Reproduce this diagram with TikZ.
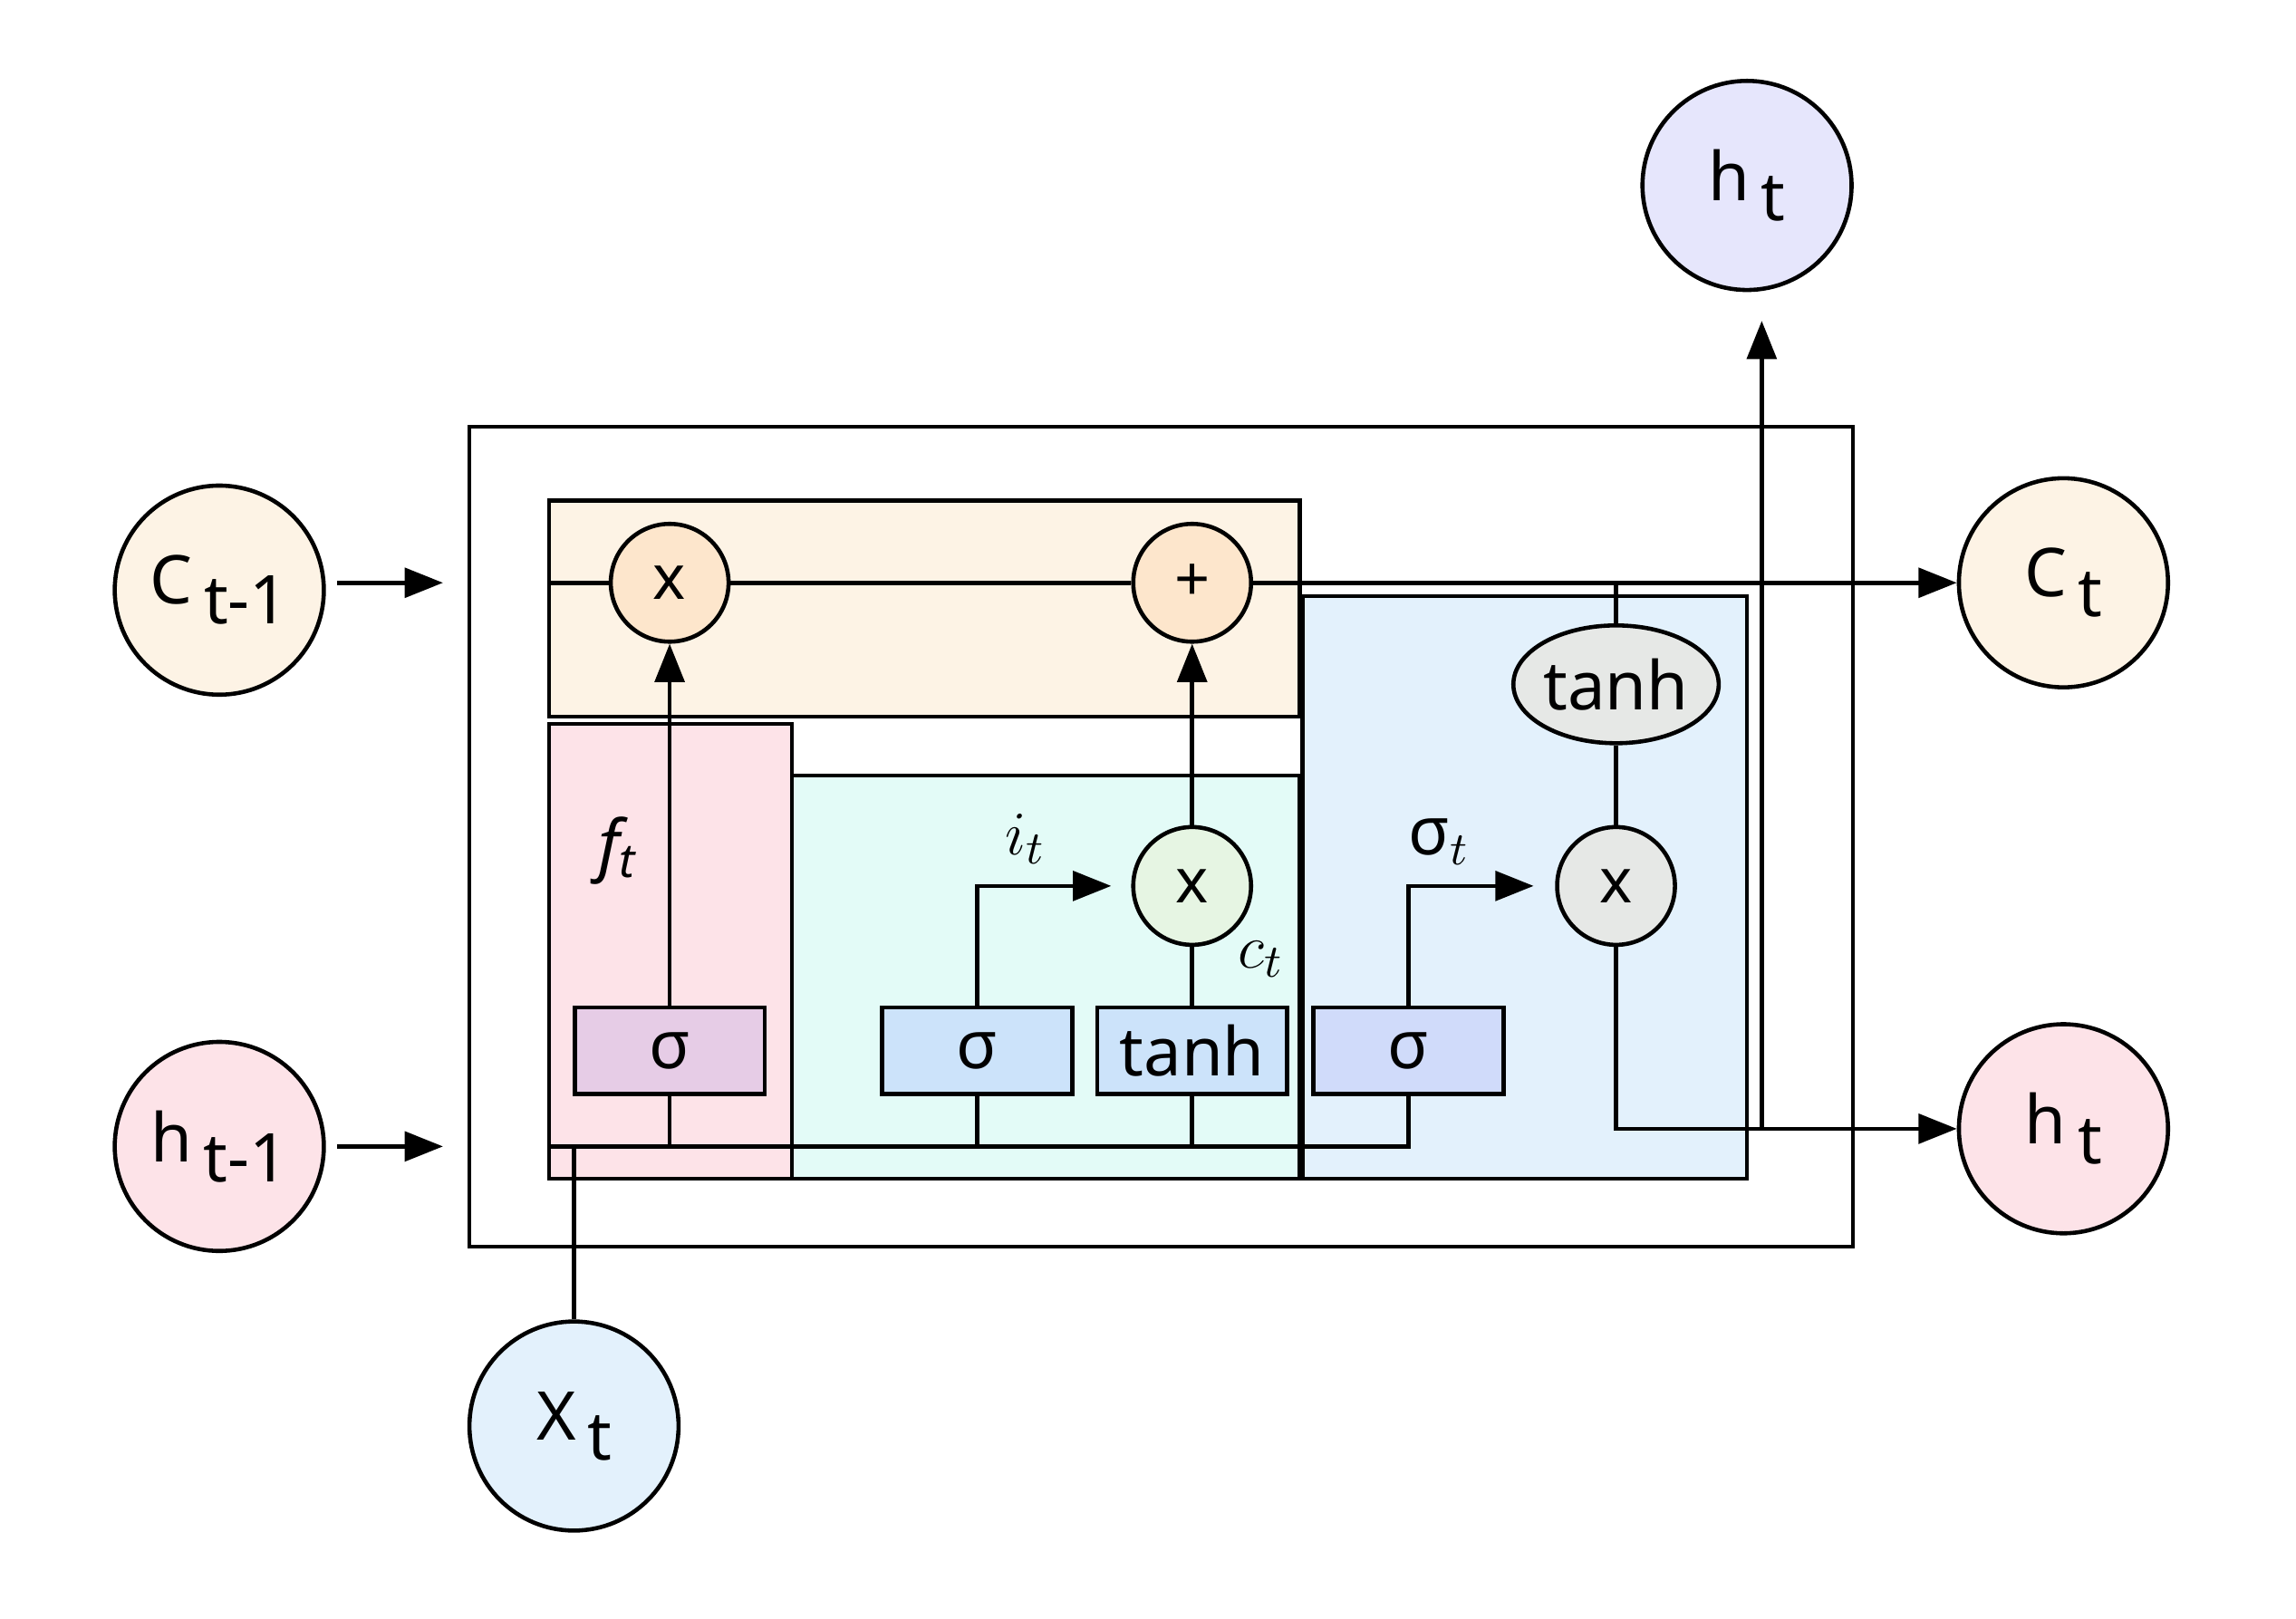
\documentclass[tikz,border=0pt]{standalone}
\usepackage{fontspec}
\setmainfont{Noto Sans}
\usetikzlibrary{arrows.meta,shapes.geometric}
\newcommand{\lsub}[2]{#1\,\raisebox{-0.55ex}{#2}}
\begin{document}
\begin{tikzpicture}[x=0.01cm,y=-0.01cm,line width=0.8pt,
 ar/.style={-{Triangle[length=0.26cm,width=0.2cm]}},
 big/.style={circle,draw,minimum size=1.42cm,inner sep=0pt,font=\fontsize{13}{15}\selectfont},
 op/.style={circle,draw,minimum size=0.8cm,inner sep=0pt,font=\fontsize{12}{14}\selectfont},
 bx/.style={draw,minimum width=1.29cm,minimum height=0.59cm,inner sep=0pt,font=\fontsize{13}{15}\selectfont},
 lab/.style={font=\fontsize{13}{15}\selectfont}]
\useasboundingbox (0,0) rectangle (1560,1100);
\definecolor{co}{HTML}{FDF3E5}\definecolor{cp}{HTML}{FDE3E8}\definecolor{cc}{HTML}{E3FBF7}
\definecolor{cb}{HTML}{E3F1FC}
\draw (319,290) rectangle (1259,847);
\draw[fill=co] (373,340) rectangle (883,487);
\draw[fill=cp] (373,492) rectangle (538,801);
\draw[fill=cc] (538,527) rectangle (883,801);
\draw[fill=cb] (885,405) rectangle (1187,801);
\node[big,fill=co] (c0) at (149,401) {\lsub{C}{t-1}};
\node[big,fill=cp] (h0) at (149,779) {\lsub{h}{t-1}};
\node[big,fill=cb] (xt) at (390,969) {\lsub{X}{t}};
\node[big,fill=co] (ct) at (1402,396) {\lsub{C}{t}};
\node[big,fill=cp] (ht) at (1402,767) {\lsub{h}{t}};
\node[big,fill={rgb,255:red,230;green,230;blue,252}] (htop) at (1187,126) {\lsub{h}{t}};
\coordinate (l0) at (373,396);
\coordinate (r0) at (883,396);
\node[op,fill={rgb,255:red,253;green,230;blue,204}] (m1) at (455,396) {x};
\node[op,fill={rgb,255:red,253;green,230;blue,204}] (pl) at (810,396) {+};
\node[op,fill={rgb,255:red,230;green,245;blue,227}] (m2) at (810,602) {x};
\node[op,fill={rgb,255:red,230;green,232;blue,230}] (m3) at (1098,602) {x};
\node[ellipse,draw,fill={rgb,255:red,230;green,232;blue,230},minimum width=1.36cm,minimum height=0.8cm,inner sep=0pt,font=\fontsize{13}{15}\selectfont] (th) at (1098,465) {tanh};
\node[bx,fill={rgb,255:red,230;green,204;blue,230}] (sf) at (455,714) {σ};
\node[bx,fill={rgb,255:red,204;green,227;blue,250}] (si) at (664,714) {σ};
\node[bx,fill={rgb,255:red,204;green,227;blue,250}] (tc) at (810,714) {tanh};
\node[bx,fill={rgb,255:red,208;green,219;blue,250}] (so) at (957,714) {σ};
\coordinate (a1) at (229,396);\coordinate (a2) at (301,396);
\coordinate (b1) at (229,779);\coordinate (b2) at (301,779);
\draw[ar] (a1)--(a2);
\draw[ar] (b1)--(b2);
\draw (l0)--(m1)--(pl);
\draw[ar] (pl)--(ct);
\coordinate (bl) at (373,779);\coordinate (br) at (957,779);
\draw (bl)--(br)--(so.south);
\draw (sf.south)--(455,779);
\draw (si.south)--(si.south|-bl);
\draw (tc.south)--(810,779);
\draw (xt.north)--(390,779);
\draw[ar] (sf.north)--(m1.south);
\draw[ar] (si.north)--(664,602)--(755,602);
\draw (tc.north)--(m2.south);
\draw[ar] (m2.north)--(pl.south);
\draw[ar] (so.north)--(957,602)--(1042,602);
\draw (m3.north)--(th.south);
\draw (th.north)--(1098,396);
\draw[ar] (m3.south)--(1098,767)--(ht.west);
\draw[ar] (1197,767)--(1197,218);
\node[lab] at (420,578) {$\mathit{f}_{\mathit{t}}$};
\node[lab] at (697,570) {$i_t$};
\node[lab] at (857,652) {$c_t$};
\node[lab] at (978,572) {σ$_t$};
\end{tikzpicture}
\end{document}
